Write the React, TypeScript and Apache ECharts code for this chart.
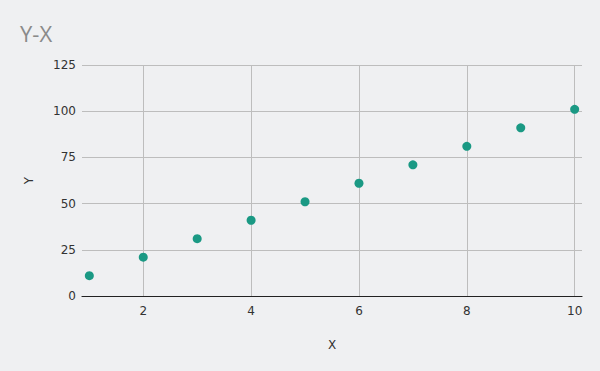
import React, { useEffect, useRef } from "react";
import * as echarts from "echarts";

const xValues = [1, 2, 3, 4, 5, 6, 7, 8, 9, 10];
const yValues = [11, 21, 31, 41, 51, 61, 71, 81, 91, 101];
const xTicks = [2, 4, 6, 8, 10];
const yTicks = [0, 25, 50, 75, 100, 125];
const title = "Y-X";

export default function App() {
  const ref = useRef<HTMLDivElement>(null);
  useEffect(() => {
    if (!ref.current) return;
    const chart = echarts.init(ref.current, undefined, { renderer: "svg" });
    const font = "DejaVu Sans";
    chart.setOption({
      animation: false,
      backgroundColor: "#eff0f2",
      title: {
        text: title,
        left: 15,
        top: 17,
        textStyle: { fontFamily: "Open Sans", fontSize: 22, fontWeight: "normal", color: "#8a8a8a" },
      },
      grid: { left: 82, right: 18, top: 65, bottom: 75, containLabel: false },
      xAxis: {
        type: "value",
        min: 0.864,
        max: 10.136,
        name: "X",
        nameLocation: "middle",
        nameGap: 43,
        nameTextStyle: { fontFamily: font, fontSize: 12, color: "#333" },
        axisLine: { show: true, onZero: false, lineStyle: { color: "#222", width: 1.2 } },
        axisTick: { show: false, customValues: xTicks },
        axisLabel: { customValues: xTicks, fontFamily: font, fontSize: 12, color: "#333", margin: 9 },
        splitLine: { show: true, lineStyle: { color: "#bdbdbd", width: 1 } },
      },
      yAxis: {
        type: "value",
        min: 0,
        max: 125,
        interval: 25,
        name: "Y",
        nameLocation: "middle",
        nameGap: 47,
        nameTextStyle: { fontFamily: font, fontSize: 12, color: "#333" },
        axisLine: { show: false },
        axisTick: { show: false, customValues: yTicks },
        axisLabel: { customValues: yTicks, fontFamily: font, fontSize: 12, color: "#333", margin: 6 },
        splitLine: { show: true, lineStyle: { color: "#bdbdbd", width: 1 } },
      },
      series: [
        {
          type: "scatter",
          data: xValues.map((x, i) => [x, yValues[i]]),
          symbolSize: 9,
          itemStyle: { color: "#1a9984", opacity: 1 },
        },
      ],
    });
    return () => chart.dispose();
  }, []);
  return <div ref={ref} style={{ width: 600, height: 371, position: "absolute", left: 0, top: 0 }} />;
}
